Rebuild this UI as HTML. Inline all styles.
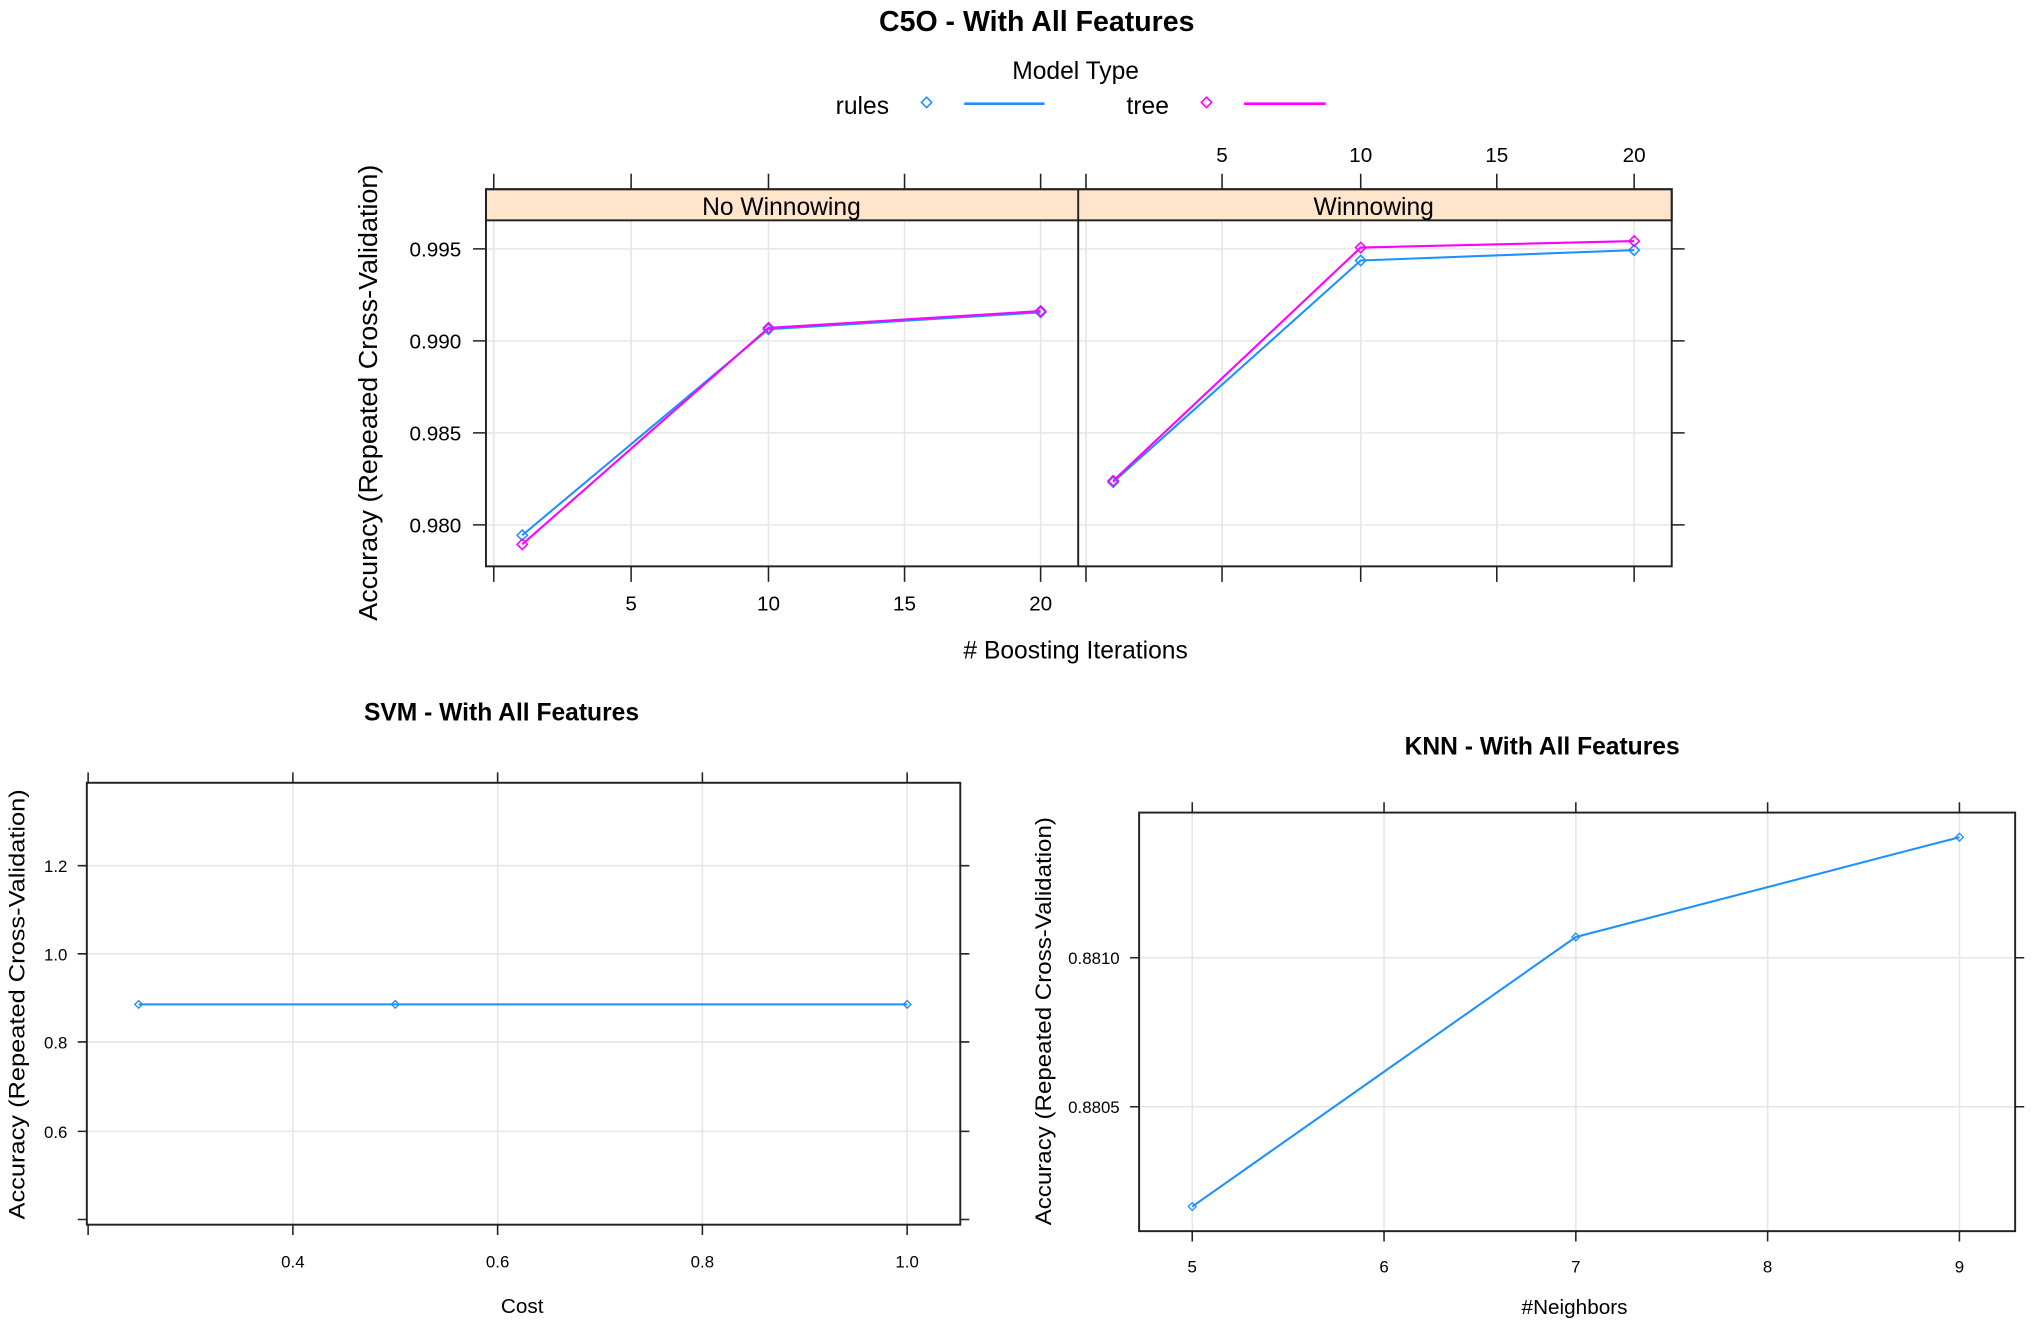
<!DOCTYPE html>
<html><head><meta charset="utf-8"><style>html,body{margin:0;padding:0;background:#fff}svg{display:block}</style></head>
<body>
<svg width="2032" height="1328" viewBox="0 0 1568 1024.7" xmlns="http://www.w3.org/2000/svg" font-family="Liberation Sans, Arial, sans-serif">
<rect width="1568" height="1025" fill="#fff"/>
<!-- C5.0 -->
<text x="800" y="24" font-size="22" font-weight="bold" text-anchor="middle">C5O - With All Features</text>
<text x="830" y="61" font-size="19" text-anchor="middle">Model Type</text>
<text x="686" y="88" font-size="19" text-anchor="end">rules</text>
<path d="M715 75 l4 4 -4 4 -4 -4z" fill="none" stroke="#1e90ff" stroke-width="1.2"/>
<line x1="744" y1="80" x2="806" y2="80" stroke="#1e90ff" stroke-width="2"/>
<text x="902" y="88" font-size="19" text-anchor="end">tree</text>
<path d="M931 75 l4 4 -4 4 -4 -4z" fill="none" stroke="#ff00ff" stroke-width="1.2"/>
<line x1="960" y1="80" x2="1023" y2="80" stroke="#ff00ff" stroke-width="2"/>
<g stroke="#e6e6e6" stroke-width="1.2">
<line x1="381" y1="170" x2="381" y2="437"/><line x1="487" y1="170" x2="487" y2="437"/><line x1="593" y1="170" x2="593" y2="437"/><line x1="698" y1="170" x2="698" y2="437"/><line x1="803" y1="170" x2="803" y2="437"/>
<line x1="838" y1="170" x2="838" y2="437"/><line x1="943" y1="170" x2="943" y2="437"/><line x1="1050" y1="170" x2="1050" y2="437"/><line x1="1155" y1="170" x2="1155" y2="437"/><line x1="1261" y1="170" x2="1261" y2="437"/>
<line x1="375" y1="192" x2="1290" y2="192"/><line x1="375" y1="263" x2="1290" y2="263"/><line x1="375" y1="334" x2="1290" y2="334"/><line x1="375" y1="405" x2="1290" y2="405"/>
</g>
<rect x="375" y="146" width="915" height="24" fill="#ffe5cc" stroke="#222" stroke-width="1.5"/>
<rect x="375" y="146" width="915" height="291" fill="none" stroke="#222" stroke-width="1.5"/>
<line x1="832" y1="146" x2="832" y2="437" stroke="#222" stroke-width="1.5"/>
<text x="603" y="166" font-size="19" text-anchor="middle">No Winnowing</text>
<text x="1060" y="166" font-size="19" text-anchor="middle">Winnowing</text>
<g stroke="#222" stroke-width="1.2">
<path d="M381 146v-12M487 146v-12M593 146v-12M698 146v-12M803 146v-12M838 146v-12M943 146v-12M1050 146v-12M1155 146v-12M1261 146v-12"/>
<path d="M381 437v12M487 437v12M593 437v12M698 437v12M803 437v12M838 437v12M943 437v12M1050 437v12M1155 437v12M1261 437v12"/>
<path d="M375 192h-10M375 263h-10M375 334h-10M375 405h-10M1290 192h10M1290 263h10M1290 334h10M1290 405h10"/>
</g>
<g font-size="16" text-anchor="middle">
<text x="487" y="471">5</text><text x="593" y="471">10</text><text x="698" y="471">15</text><text x="803" y="471">20</text>
<text x="943" y="125">5</text><text x="1050" y="125">10</text><text x="1155" y="125">15</text><text x="1261" y="125">20</text>
</g>
<g font-size="16" text-anchor="end">
<text x="356" y="198">0.995</text><text x="356" y="269">0.990</text><text x="356" y="340">0.985</text><text x="356" y="411">0.980</text>
</g>
<text x="830" y="508" font-size="19" text-anchor="middle"># Boosting Iterations</text>
<text transform="translate(291,303) rotate(-90)" font-size="20" text-anchor="middle" textLength="352" lengthAdjust="spacingAndGlyphs">Accuracy (Repeated Cross-Validation)</text>
<g fill="none" stroke-width="1.6">
<polyline points="403,413 593,254 803,241" stroke="#1e90ff"/>
<polyline points="403,420 593,253 803,240" stroke="#ff00ff"/>
<polyline points="859,372 1050,201 1261,193" stroke="#1e90ff"/>
<polyline points="859,371 1050,191 1261,186" stroke="#ff00ff"/>
</g>
<g fill="none" stroke-width="1.2">
<path d="M403 409l4 4-4 4-4-4zM593 250l4 4-4 4-4-4zM803 237l4 4-4 4-4-4zM859 368l4 4-4 4-4-4zM1050 197l4 4-4 4-4-4zM1261 189l4 4-4 4-4-4z" stroke="#1e90ff"/>
<path d="M403 416l4 4-4 4-4-4zM593 249l4 4-4 4-4-4zM803 236l4 4-4 4-4-4zM859 367l4 4-4 4-4-4zM1050 187l4 4-4 4-4-4zM1261 182l4 4-4 4-4-4z" stroke="#ff00ff"/>
</g>
<!-- SVM -->
<text x="387" y="556" font-size="19" font-weight="bold" text-anchor="middle">SVM - With All Features</text>
<g stroke="#e6e6e6" stroke-width="1.2">
<line x1="226" y1="604" x2="226" y2="945"/><line x1="384" y1="604" x2="384" y2="945"/><line x1="542" y1="604" x2="542" y2="945"/><line x1="700" y1="604" x2="700" y2="945"/>
<line x1="67" y1="668" x2="741" y2="668"/><line x1="67" y1="736" x2="741" y2="736"/><line x1="67" y1="804" x2="741" y2="804"/><line x1="67" y1="873" x2="741" y2="873"/>
</g>
<rect x="67" y="604" width="674" height="341" fill="none" stroke="#222" stroke-width="1.5"/>
<g stroke="#222" stroke-width="1.2">
<path d="M68 604v-8M226 604v-8M384 604v-8M542 604v-8M700 604v-8M68 945v8M226 945v8M384 945v8M542 945v8M700 945v8"/>
<path d="M67 668h-7M67 736h-7M67 804h-7M67 873h-7M67 941h-7M741 668h7M741 736h7M741 804h7M741 873h7M741 941h7"/>
</g>
<g font-size="13" text-anchor="middle">
<text x="226" y="978">0.4</text><text x="384" y="978">0.6</text><text x="542" y="978">0.8</text><text x="700" y="978">1.0</text>
</g>
<g font-size="13" text-anchor="end">
<text x="52" y="673">1.2</text><text x="52" y="741">1.0</text><text x="52" y="809">0.8</text><text x="52" y="878">0.6</text>
</g>
<text x="403" y="1013" font-size="16" text-anchor="middle">Cost</text>
<text transform="translate(19,775) rotate(-90)" font-size="17" text-anchor="middle" textLength="332" lengthAdjust="spacingAndGlyphs">Accuracy (Repeated Cross-Validation)</text>
<polyline points="107,775 305,775 700,775" fill="none" stroke="#1e90ff" stroke-width="1.6"/>
<path d="M107 772l3 3-3 3-3-3zM305 772l3 3-3 3-3-3zM700 772l3 3-3 3-3-3z" fill="none" stroke="#1e90ff"/>
<!-- KNN -->
<text x="1190" y="582" font-size="19" font-weight="bold" text-anchor="middle">KNN - With All Features</text>
<g stroke="#e6e6e6" stroke-width="1.2">
<line x1="920" y1="627" x2="920" y2="950"/><line x1="1068" y1="627" x2="1068" y2="950"/><line x1="1216" y1="627" x2="1216" y2="950"/><line x1="1364" y1="627" x2="1364" y2="950"/><line x1="1512" y1="627" x2="1512" y2="950"/>
<line x1="879" y1="739" x2="1555" y2="739"/><line x1="879" y1="854" x2="1555" y2="854"/>
</g>
<rect x="879" y="627" width="676" height="323" fill="none" stroke="#222" stroke-width="1.5"/>
<g stroke="#222" stroke-width="1.2">
<path d="M920 627v-8M1068 627v-8M1216 627v-8M1364 627v-8M1512 627v-8M920 950v8M1068 950v8M1216 950v8M1364 950v8M1512 950v8"/>
<path d="M879 739h-7M879 854h-7M1555 739h7M1555 854h7"/>
</g>
<g font-size="13" text-anchor="middle">
<text x="920" y="982">5</text><text x="1068" y="982">6</text><text x="1216" y="982">7</text><text x="1364" y="982">8</text><text x="1512" y="982">9</text>
</g>
<g font-size="13" text-anchor="end">
<text x="864" y="744">0.8810</text><text x="864" y="859">0.8805</text>
</g>
<text x="1215" y="1014" font-size="16" text-anchor="middle">#Neighbors</text>
<text transform="translate(811,788) rotate(-90)" font-size="17" text-anchor="middle" textLength="315" lengthAdjust="spacingAndGlyphs">Accuracy (Repeated Cross-Validation)</text>
<polyline points="920,931 1216,723 1512,646" fill="none" stroke="#1e90ff" stroke-width="1.6"/>
<path d="M920 928l3 3-3 3-3-3zM1216 720l3 3-3 3-3-3zM1512 643l3 3-3 3-3-3z" fill="none" stroke="#1e90ff"/>
</svg>
</body></html>
